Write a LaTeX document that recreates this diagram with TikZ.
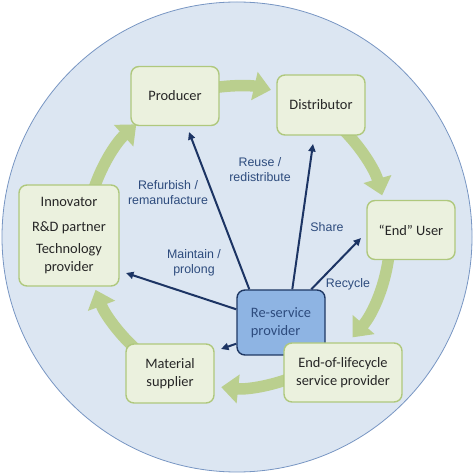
\documentclass[tikz,border=0pt]{standalone}
\usepackage{fontspec}
\setmainfont{Carlito}
\newfontfamily\labfont{Liberation Sans}
\usetikzlibrary{arrows.meta}
\definecolor{circfill}{RGB}{220,230,242}
\definecolor{circedge}{RGB}{120,150,195}
\definecolor{boxfill}{RGB}{235,241,222}
\definecolor{boxedge}{RGB}{175,200,125}
\definecolor{cyclegreen}{RGB}{186,207,142}
\definecolor{rsfill}{RGB}{142,180,227}
\definecolor{rsedge}{RGB}{31,56,100}
\definecolor{navy}{RGB}{28,52,100}
\definecolor{labblue}{RGB}{45,75,125}
\definecolor{boxtext}{RGB}{38,38,38}
\tikzset{
  actor/.style={draw=boxedge, line width=1.4pt, fill=boxfill, rounded corners=8pt,
    text=boxtext, font=\fontsize{14.4}{17.5}\selectfont, align=center, inner sep=0pt},
  rsbox/.style={draw=rsedge, line width=1.4pt, fill=rsfill, rounded corners=8pt,
    text=labblue, font=\fontsize{14.4}{18}\selectfont, align=left, inner sep=0pt,
    minimum width=88pt, minimum height=65pt},
  cyc/.style={cyclegreen, line width=11.5pt, -{Triangle[width=28pt,length=17pt]}},
  flow/.style={navy, line width=2pt, -{Triangle[length=7.5pt,width=7pt]}},
  lbl/.style={text=labblue, font=\labfont\fontsize{12.4}{15}\selectfont, align=center, inner sep=0pt}
}
\begin{document}
\begin{tikzpicture}[x=1pt,y=1pt]
\useasboundingbox (0,0) rectangle (474,474);
\fill[circfill] (237,237) circle[radius=235];
\draw[circedge, line width=0.8pt] (237,237) circle[radius=235];
\coordinate (c) at (237,237);
% cycle arrows
\draw[cyc] ([shift={(100:151)}]c) arc[start angle=100, end angle=77, radius=151];
\draw[cyc] ([shift={(46:151)}]c) arc[start angle=46, end angle=16, radius=151];
\draw[cyc] ([shift={(-6:153)}]c) arc[start angle=-6, end angle=-41, radius=153];
\draw[cyc] ([shift={(-68:151)}]c) arc[start angle=-68, end angle=-96, radius=151];
\draw[cyc] ([shift={(-131:151)}]c) arc[start angle=-131, end angle=-159.5, radius=151];
\draw[cyc] ([shift={(163:151)}]c) arc[start angle=163, end angle=132, radius=152];
% boxes
\node[actor, minimum width=88pt, minimum height=59pt] (prod) at (175,378) {Producer};
\node[actor, minimum width=88pt, minimum height=60pt] (dist) at (321,369) {Distributor};
\node[actor, minimum width=88pt, minimum height=59pt] (user) at (411,244) {“End” User};
\node[actor, minimum width=88pt, minimum height=59pt] (mat) at (170,100.5) {Material\\supplier};
\node[actor, minimum width=100pt, minimum height=101pt] (inno) at (69,238.5) {Innovator\\[7pt]R\&D partner\\[5pt]Technology\\provider};
% blue flows
\coordinate (tRef) at (189,342);
\coordinate (tReu) at (313,330);
\coordinate (tSh) at (361,236);
\coordinate (tMa) at (126,201);
\coordinate (tMs) at (221,125);
\node[rsbox] (rs) at (281,151.5) {Re-service\\provider};
\draw[flow] ([xshift=13pt]rs.north west) -- (tRef);
\draw[flow] ([xshift=56pt]rs.north west) -- (tReu);
\draw[flow] ([xshift=75pt]rs.north west) -- (tSh);
\draw[flow] ([yshift=-20pt]rs.north west) -- (tMa);
\draw[flow] ([yshift=12pt]rs.south west) -- (tMs);
\node[actor, minimum width=118pt, minimum height=59pt] (eol) at (343,101.5) {End-of-lifecycle\\service provider};
% labels
\node[lbl] (lRef) at (168,281) {Refurbish /\\remanufacture};
\node[lbl] (lReu) at (260,304) {Reuse /\\redistribute};
\node[lbl] (lSh) at (327,247) {Share};
\node[lbl] (lRec) at (348,190) {Recycle};
\node[lbl] (lMa) at (194,211) {Maintain /\\prolong};
\end{tikzpicture}
\end{document}
